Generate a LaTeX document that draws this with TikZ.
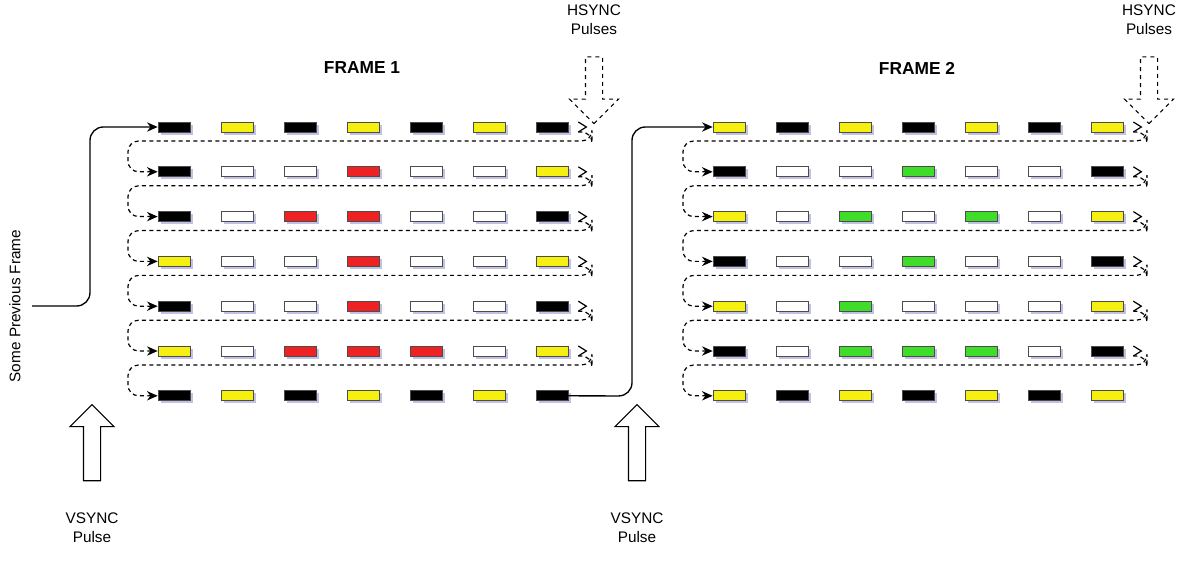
\documentclass[tikz,border=0pt]{standalone}
\usepackage{fontspec}
\setmainfont{Liberation Sans}
\usetikzlibrary{shadows,arrows.meta,shapes.arrows,calc}
\definecolor{Y}{HTML}{F5F010}
\definecolor{K}{HTML}{000000}
\definecolor{W}{HTML}{FFFFFF}
\definecolor{R}{HTML}{EE2222}
\definecolor{G}{HTML}{3FDD2A}
\tikzset{
 px/.style={x=0.75pt,y=-0.75pt},
 cell/.style={draw=black!70,line width=0.5pt,minimum width=24pt,minimum height=7.5pt,inner sep=0pt,
   drop shadow={opacity=0.35,shadow xshift=2pt,shadow yshift=-2pt,fill=blue!40!gray}},
 scan/.style={dashed,line width=0.9pt,dash pattern=on 3pt off 2.5pt,rounded corners=8pt},
 tipA/.style={-{Stealth[length=8pt,width=7pt]}},
 solid conn/.style={line width=1pt,rounded corners=10pt,tipA},
 lbl/.style={font=\fontsize{11.5}{14}\selectfont,align=center},
 ttl/.style={font=\fontsize{13}{15}\selectfont\bfseries},
}
\begin{document}
\begin{tikzpicture}[px]
\useasboundingbox (0,0) rectangle (1196,570);
\foreach \row [count=\i] in {{K,Y,K,Y,K,Y,K},{K,W,W,R,W,W,Y},{K,W,R,R,W,W,K},{Y,W,W,R,W,W,Y},{K,W,W,R,W,W,K},{Y,W,R,R,R,W,Y},{K,Y,K,Y,K,Y,K}}{
  \foreach \c [count=\j] in \row {
    \node[cell,fill=\c] (a\i-\j) at ({174+63*(\j-1)},{127+44.8*(\i-1)}) {};
  }}
\foreach \row [count=\i] in {{Y,K,Y,K,Y,K,Y},{K,W,W,G,W,W,K},{Y,W,G,W,G,W,Y},{K,W,W,G,W,W,K},{Y,W,G,W,W,W,Y},{K,W,G,G,G,W,K},{Y,K,Y,K,Y,K,Y}}{
  \foreach \c [count=\j] in \row {
    \node[cell,fill=\c] (b\i-\j) at ({729+63*(\j-1)},{127+44.8*(\i-1)}) {};
  }}
% scan lines
\foreach \f/\xr/\xl in {a/592/128,b/1147/683}{
 \foreach \i [evaluate=\i as \n using int(\i+1)] in {1,...,6}{
  \draw[line width=0.9pt] ($(\f\i-7.east)+(10,-5)$) -- ($(\f\i-7.east)+(18,0)$) -- ($(\f\i-7.east)+(10,5)$);
  \draw[scan,tipA] ($(\f\i-7.east)+(10,5)$) -| (\xr,{127+44.8*(\i-1)+14})
    -- (\xl,{127+44.8*(\i-1)+14}) -- (\xl,{127+44.8*\i}) -- (\f\n-1.west);
 }}
\coordinate (prev) at (32,306);
\draw[solid conn] (prev) -- (90,306) -- (90,127) -- (a1-1.west);
\draw[solid conn] (a7-7.east) -- (632,396) -- (632,127) -- (b1-1.west);
\foreach \x in {92,637}{
 \node[draw,line width=0.8pt,single arrow,shape border rotate=90,
   single arrow head extend=10pt,minimum height=57pt,inner sep=6pt,fill=white] at (\x,447) {};
}
\foreach \x in {594,1149}{
 \node[draw,dashed,line width=0.8pt,single arrow,shape border rotate=270,
   single arrow head extend=12pt,minimum height=50pt,inner sep=6pt] at (\x,86) {};
 \node[lbl] at (\x,20) {HSYNC\\Pulses};
}
\node[lbl] at (92,528) {VSYNC\\Pulse};
\node[lbl] at (637,528) {VSYNC\\Pulse};
\node[ttl] at (362,68) {FRAME 1};
\node[ttl] at (917,68) {FRAME 2};
\node[lbl,rotate=90] at (15,306) {Some Previous Frame};
\end{tikzpicture}
\end{document}
